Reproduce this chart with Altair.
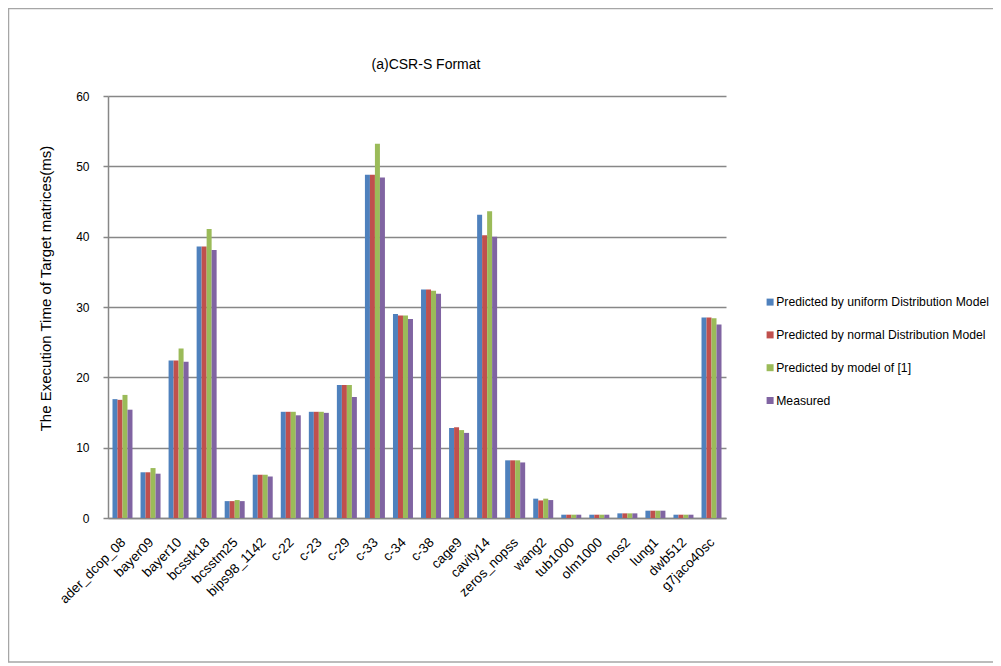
import altair as alt
import pandas as pd

matrices = ["ader_dcop_08", "bayer09", "bayer10", "bcsstk18", "bcsstm25", "bips98_1142",
            "c-22", "c-23", "c-29", "c-33", "c-34", "c-38", "cage9", "cavity14",
            "zeros_nopss", "wang2", "tub1000", "olm1000", "nos2", "lung1", "dwb512", "g7jaco40sc"]

series_names = ["Predicted by uniform Distribution Model",
                "Predicted by normal Distribution Model",
                "Predicted by model of [1]",
                "Measured"]

uniform = [16.9, 6.5, 22.4, 38.6, 2.4, 6.15, 15.1, 15.1, 18.9, 48.8, 29.0, 32.5, 12.8, 43.1,
           8.2, 2.75, 0.47, 0.47, 0.66, 1.04, 0.47, 28.5]
normal = [16.8, 6.5, 22.4, 38.6, 2.4, 6.15, 15.1, 15.1, 18.9, 48.8, 28.8, 32.5, 12.9, 40.2,
          8.2, 2.5, 0.47, 0.47, 0.66, 1.04, 0.47, 28.5]
model1 = [17.5, 7.1, 24.1, 41.1, 2.55, 6.15, 15.1, 15.1, 18.9, 53.2, 28.8, 32.3, 12.5, 43.6,
          8.2, 2.75, 0.47, 0.47, 0.66, 1.04, 0.47, 28.4]
measured = [15.4, 6.3, 22.2, 38.1, 2.4, 5.9, 14.6, 14.95, 17.2, 48.4, 28.3, 31.9, 12.1, 40.0,
            7.9, 2.55, 0.47, 0.47, 0.66, 1.04, 0.47, 27.5]

colors = ["#4F81BD", "#C0504D", "#9BBB59", "#8064A2"]
y_ticks = [0, 10, 20, 30, 40, 50, 60]
chart_title = "(a)CSR-S Format"

rows = []
for name, vals in zip(series_names, [uniform, normal, model1, measured]):
    for m, v in zip(matrices, vals):
        rows.append({"matrix": m, "series": name, "value": v})
df = pd.DataFrame(rows)

FONT = "Liberation Sans"
GRAY = "#878787"

bars = alt.Chart(df).mark_bar(size=5).encode(
    x=alt.X("matrix:N", sort=matrices, title=None,
            scale=alt.Scale(paddingInner=0.287, paddingOuter=0.16),
            axis=alt.Axis(labelAngle=-45, ticks=False, grid=False, domainColor=GRAY,
                          domainWidth=1.5, labelFontSize=13.5, labelPadding=17,
                          labelOffset=-4,
                          labelColor="#000000", labelFont=FONT)),
    xOffset=alt.XOffset("series:N", sort=series_names,
                        scale=alt.Scale(paddingInner=0, paddingOuter=0)),
    y=alt.Y("value:Q", scale=alt.Scale(domain=[0, 60], nice=False),
            title="The Execution Time of Target matrices(ms)",
            axis=alt.Axis(values=y_ticks, grid=True, gridColor=GRAY, gridWidth=1.5,
                          domainColor=GRAY, domainWidth=1.5, tickColor=GRAY, tickWidth=1.5,
                          tickSize=5, labelFontSize=12, labelPadding=14, labelColor="#000000",
                          labelFont=FONT, titleFont=FONT, titleFontSize=15,
                          titleFontWeight="normal", titleColor="#000000",
                          titleX=-55, titleY=192, titleAngle=-90, titleAlign="center",
                          titleBaseline="bottom")),
    color=alt.Color("series:N", sort=series_names,
                    scale=alt.Scale(domain=series_names, range=colors),
                    legend=alt.Legend(title=None, orient="none", legendX=656, legendY=200,
                                      symbolType="square", symbolSize=49, symbolStrokeWidth=0,
                                      labelFontSize=12.2, labelFont=FONT, labelColor="#000000",
                                      rowPadding=19.8, labelOffset=0, padding=0,
                                      labelLimit=300)),
)

frame = alt.Chart(alt.Data(values=[{}])).mark_rect(
    filled=False, stroke="#a6a6a6", strokeWidth=1.5
).encode(
    x=alt.value(-99.5), x2=alt.value(1000), y=alt.value(-87.5), y2=alt.value(566)
)

title = alt.Chart(alt.Data(values=[{}])).mark_text(
    text=chart_title, font=FONT, fontSize=14, color="#000000",
    align="center", baseline="alphabetic"
).encode(x=alt.value(318), y=alt.value(-27))

chart = alt.layer(frame, title, bars).properties(
    width=618, height=422,
    autosize=alt.AutoSizeParams(type="none"),
    padding={"left": 100, "top": 88, "right": 267, "bottom": 146},
).configure_view(stroke=None)

chart.save("out.html", embed_options={"renderer": "svg", "actions": False})
